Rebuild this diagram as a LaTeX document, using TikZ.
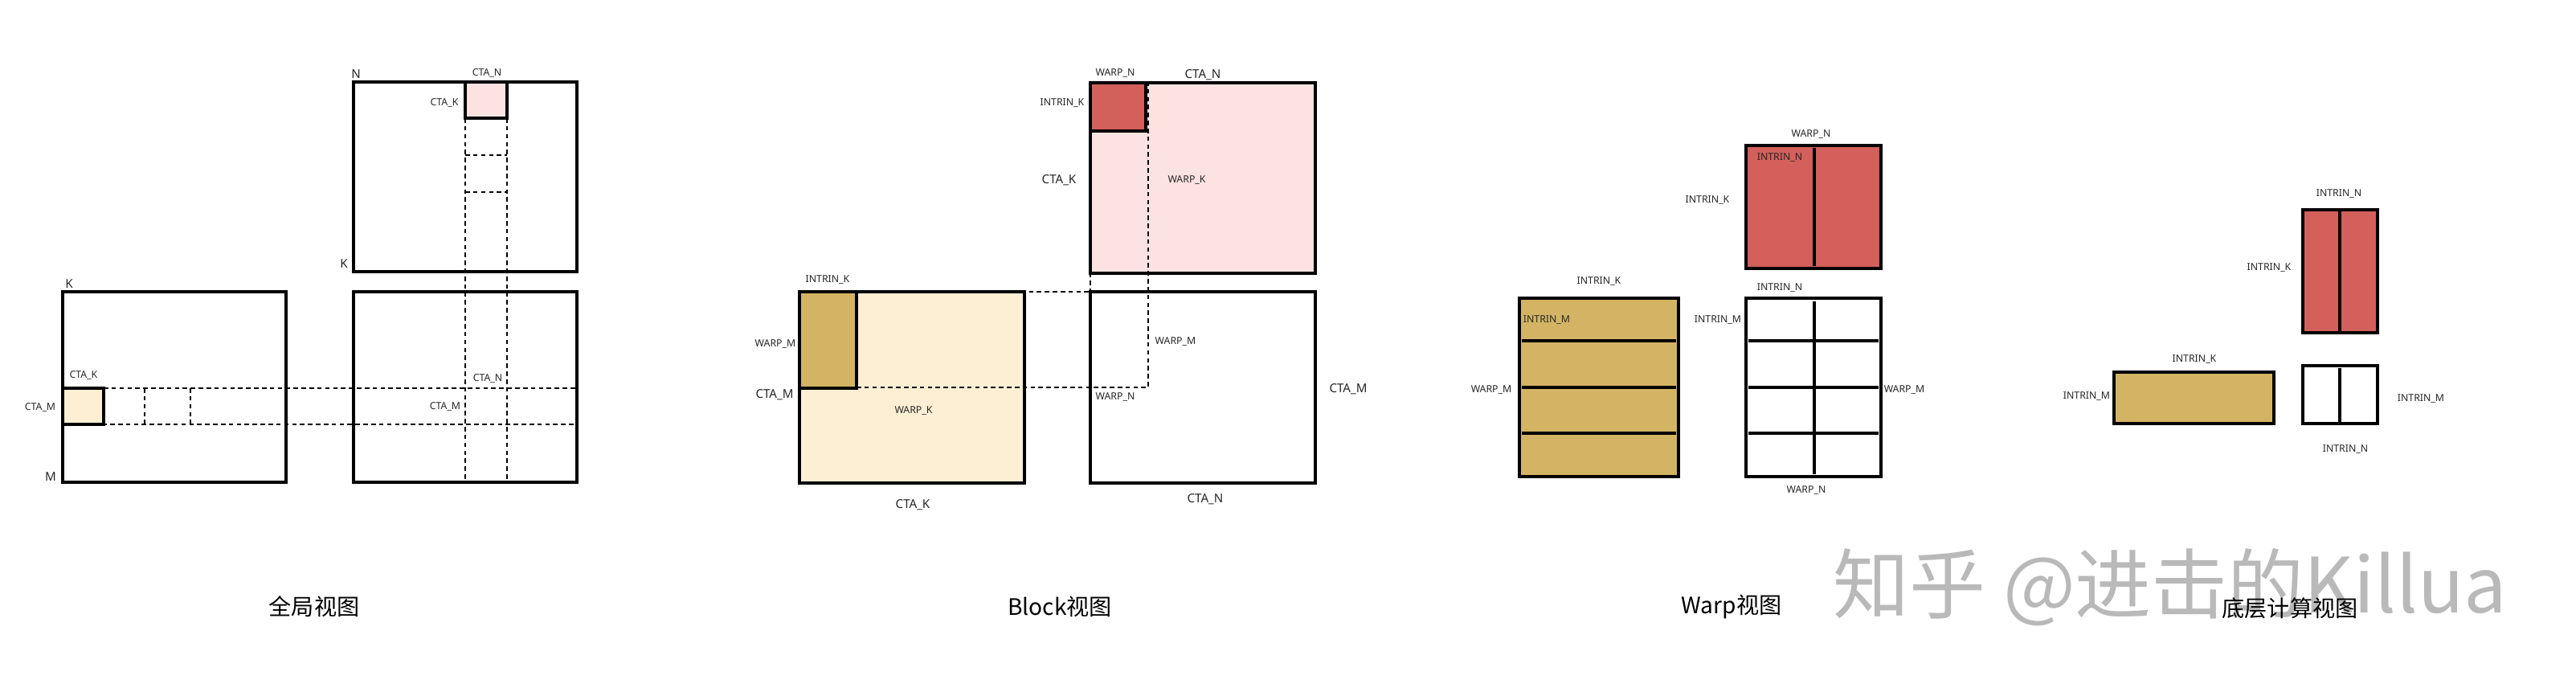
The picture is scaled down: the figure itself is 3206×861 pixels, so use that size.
\documentclass[tikz,border=0pt]{standalone}
\usepackage{fontspec}
\setmainfont{Noto Sans}
\newfontfamily\cjkfont{Noto Sans CJK SC}
\definecolor{ctaYel}{HTML}{FCEFD4}
\definecolor{warpYel}{HTML}{D3B464}
\definecolor{ctaPink}{HTML}{FCE2E1}
\definecolor{warpRed}{HTML}{D3605B}

\begin{document}
\begin{tikzpicture}[x=0.01cm,y=-0.01cm,
	box/.style={draw=black,line width=0.9pt},
	dline/.style={line width=0.8pt,dash pattern=on 1.6pt off 1.2pt},
	lbl/.style={inner sep=0pt,text=black!85,font=\fontsize{3.5}{4}\selectfont},
	mlbl/.style={inner sep=0pt,text=black!85,font=\fontsize{4.3}{5}\selectfont},
	viewcap/.style={inner sep=0pt,font=\cjkfont\fontsize{8}{9}\selectfont}]
	\useasboundingbox (0,0) rectangle (3206,861);
	\fill[white] (0,0) rectangle (3206,861);

	\node[inner sep=0pt,text=gray!55,font=\cjkfont\fontsize{27}{30}\selectfont] (zhihu) at (2701,731) {知乎 @进击的Killua};

	\draw [box,fill=white] (78,363) rectangle (356,600);
	\draw [box,fill=ctaYel] (78,483) rectangle (129,528);
	\draw [box,fill=white] (440,102) rectangle (718,338);
	\draw [box,fill=ctaPink] (579,102) rectangle (631,147);
	\draw [box] (440,363) rectangle (718,600);
	\draw [dline] (129,483) -- (718,483);
	\draw [dline] (78,528) -- (718,528);
	\draw [dline] (180,483) -- (180,528);
	\draw [dline] (237,483) -- (237,528);
	\draw [dline] (579,147) -- (579,600);
	\draw [dline] (631,147) -- (631,600);
	\draw [dline] (579,193) -- (631,193);
	\draw [dline] (579,239) -- (631,239);
	\node[mlbl] (gK) at (86,353) {K};
	\node[mlbl] (gM) at (63,593) {M};
	\node[lbl] (gCtaK) at (104,467) {CTA\_K};
	\node[lbl] (gCtaM) at (50,507) {CTA\_M};
	\node[mlbl] (gN) at (443,92) {N};
	\node[lbl] (gCtaN) at (606,91) {CTA\_N};
	\node[lbl] (gCtaKb) at (553,128) {CTA\_K};
	\node[mlbl] (gKb) at (428,328) {K};
	\node[lbl] (gCtaNc) at (607,471) {CTA\_N};
	\node[lbl] (gCtaMc) at (554,506) {CTA\_M};

	\draw [box,fill=ctaYel] (995,363) rectangle (1275,601);
	\draw [box,fill=warpYel] (995,363) rectangle (1066,483);
	\draw [box,fill=ctaPink] (1357,103) rectangle (1637,340);
	\draw [box,fill=warpRed] (1357,103) rectangle (1426,163);
	\draw [box,fill=white] (1357,363) rectangle (1637,601);
	\draw [dline] (995,363) -- (1637,363);
	\draw [dline] (1357,103) -- (1357,601);
	\draw [dline] (1066,482) -- (1429,482) -- (1429,103);
	\node[lbl] (bIntrinK) at (1030,348) {INTRIN\_K};
	\node[lbl] (bWarpM) at (965,428) {WARP\_M};
	\node[mlbl] (bCtaM) at (964,491) {CTA\_M};
	\node[lbl] (bWarpK) at (1137,511) {WARP\_K};
	\node[mlbl] (bCtaK) at (1136,628) {CTA\_K};
	\node[lbl] (bWarpN) at (1388,91) {WARP\_N};
	\node[mlbl] (bCtaN) at (1497,93) {CTA\_N};
	\node[lbl] (bIntrinKb) at (1322,128) {INTRIN\_K};
	\node[mlbl] (bCtaKb) at (1318,224) {CTA\_K};
	\node[lbl] (bWarpKb) at (1477,224) {WARP\_K};
	\node[lbl] (bWarpMc) at (1463,425) {WARP\_M};
	\node[lbl] (bWarpNc) at (1388,494) {WARP\_N};
	\node[mlbl] (bCtaMc) at (1678,484) {CTA\_M};
	\node[mlbl] (bCtaNc) at (1500,621) {CTA\_N};

	\draw [box,fill=warpYel] (1891,371) rectangle (2089,593);
	\draw [box] (1894,424) -- (2086,424);
	\draw [box] (1894,482) -- (2086,482);
	\draw [box] (1894,539) -- (2086,539);
	\draw [box,fill=warpRed] (2173,181) rectangle (2341,334);
	\draw [box] (2258,184) -- (2258,331);
	\draw [box,fill=white] (2173,371) rectangle (2341,593);
	\draw [box] (2258,375) -- (2258,590);
	\draw [box] (2176,424) -- (2338,424);
	\draw [box] (2176,482) -- (2338,482);
	\draw [box] (2176,539) -- (2338,539);
	\node[lbl] (wWarpN) at (2254,167) {WARP\_N};
	\node[lbl] (wIntrinN) at (2215,196) {INTRIN\_N};
	\node[lbl] (wIntrinK) at (2125,249) {INTRIN\_K};
	\node[lbl] (wIntrinKa) at (1990,350) {INTRIN\_K};
	\node[lbl] (wIntrinM) at (1925,398) {INTRIN\_M};
	\node[lbl] (wWarpM) at (1856,485) {WARP\_M};
	\node[lbl] (wIntrinNc) at (2215,358) {INTRIN\_N};
	\node[lbl] (wIntrinMc) at (2138,398) {INTRIN\_M};
	\node[lbl] (wWarpMc) at (2370,485) {WARP\_M};
	\node[lbl] (wWarpNc) at (2248,610) {WARP\_N};

	\draw [box,fill=warpRed] (2866,261) rectangle (2959,414);
	\draw [box] (2912,263) -- (2912,412);
	\draw [box,fill=warpYel] (2631,463) rectangle (2830,527);
	\draw [box,fill=white] (2866,455) rectangle (2959,527);
	\draw [box] (2912,458) -- (2912,525);
	\node[lbl] (iIntrinN) at (2911,241) {INTRIN\_N};
	\node[lbl] (iIntrinK) at (2824,333) {INTRIN\_K};
	\node[lbl] (iIntrinKa) at (2731,447) {INTRIN\_K};
	\node[lbl] (iIntrinM) at (2597,493) {INTRIN\_M};
	\node[lbl] (iIntrinMc) at (3013,496) {INTRIN\_M};
	\node[lbl] (iIntrinNc) at (2919,559) {INTRIN\_N};

	\node[viewcap] (capGlobal) at (391,755) {全局视图};
	\node[viewcap] (capBlock) at (1319,755) {Block视图};
	\node[viewcap] (capWarp) at (2155,755) {Warp视图};
	\node[viewcap] (capIntrin) at (2850,757) {底层计算视图};
\end{tikzpicture}
\end{document}
